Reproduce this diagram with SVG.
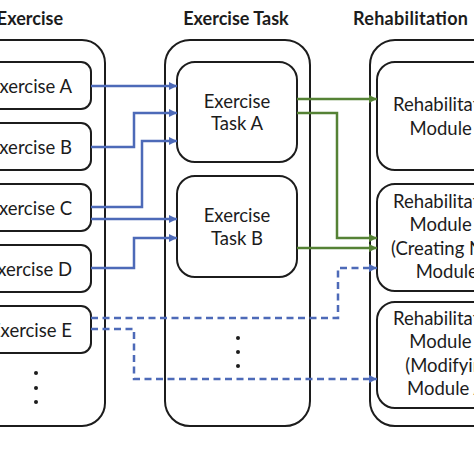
<svg xmlns="http://www.w3.org/2000/svg" width="474" height="474" viewBox="0 0 474 474">
  <defs>
    <marker id="arrBlue" viewBox="0 0 10 10" refX="10" refY="5" markerWidth="8" markerHeight="8" markerUnits="userSpaceOnUse" orient="auto">
      <path d="M0,0 L10,5 L0,10 z" fill="#4d6ab8"/>
    </marker>
    <marker id="arrGreen" viewBox="0 0 10 10" refX="10" refY="5" markerWidth="8" markerHeight="8" markerUnits="userSpaceOnUse" orient="auto">
      <path d="M0,0 L10,5 L0,10 z" fill="#558235"/>
    </marker>
  </defs>
  <style>
    .frame { fill: #ffffff; stroke: #1c1c1c; stroke-width: 2; }
    .box { fill: #ffffff; stroke: #1c1c1c; stroke-width: 2; }
    .head { font-family: Lato, "Liberation Sans", sans-serif; font-weight: bold; font-size: 18px; fill: #1c1c1c; }
    .lbl { font-family: Lato, "Liberation Sans", sans-serif; font-size: 18.5px; fill: #1c1c1c; }
    .blue { fill: none; stroke: #4d6ab8; stroke-width: 2.5; marker-end: url(#arrBlue); }
    .dash { stroke-dasharray: 7 4.5; }
    .green { fill: none; stroke: #558235; stroke-width: 2.5; marker-end: url(#arrGreen); }
    .dot { fill: #1c1c1c; }
  </style>

  <rect width="474" height="474" fill="#ffffff"/>

  <!-- column headers -->
  <text class="head" x="63" y="25" text-anchor="end">Exercise</text>
  <text class="head" x="236" y="25" text-anchor="middle">Exercise Task</text>
  <text class="head" x="353" y="25" textLength="115">Rehabilitation</text>

  <!-- column frames -->
  <rect class="frame" x="-60" y="40" width="165" height="386" rx="23"/>
  <rect class="frame" x="165" y="40" width="145" height="386" rx="25"/>
  <rect class="frame" x="370" y="40" width="160" height="386" rx="25"/>

  <!-- exercises -->
  <g id="exercise-a">
    <rect class="box" x="-40" y="62" width="131" height="47" rx="10"/>
    <text class="lbl" x="72" y="93" text-anchor="end">Exercise A</text>
  </g>
  <g id="exercise-b">
    <rect class="box" x="-40" y="123" width="131" height="47" rx="10"/>
    <text class="lbl" x="72" y="154" text-anchor="end">Exercise B</text>
  </g>
  <g id="exercise-c">
    <rect class="box" x="-40" y="184" width="131" height="47" rx="10"/>
    <text class="lbl" x="72" y="215" text-anchor="end">Exercise C</text>
  </g>
  <g id="exercise-d">
    <rect class="box" x="-40" y="245" width="131" height="47" rx="10"/>
    <text class="lbl" x="72" y="276" text-anchor="end">Exercise D</text>
  </g>
  <g id="exercise-e">
    <rect class="box" x="-40" y="306" width="131" height="47" rx="10"/>
    <text class="lbl" x="72" y="337" text-anchor="end">Exercise E</text>
  </g>
  <g id="exercise-more">
    <circle class="dot" cx="36" cy="373" r="2"/>
    <circle class="dot" cx="36" cy="388" r="2"/>
    <circle class="dot" cx="36" cy="402" r="2"/>
  </g>

  <!-- exercise tasks -->
  <g id="task-a">
    <rect class="box" x="177" y="62" width="120" height="100" rx="18"/>
    <text class="lbl" x="237" y="108" text-anchor="middle">Exercise</text>
    <text class="lbl" x="237" y="130" text-anchor="middle">Task A</text>
  </g>
  <g id="task-b">
    <rect class="box" x="177" y="176" width="120" height="101" rx="18"/>
    <text class="lbl" x="237" y="222" text-anchor="middle">Exercise</text>
    <text class="lbl" x="237" y="245" text-anchor="middle">Task B</text>
  </g>
  <g id="task-more">
    <circle class="dot" cx="238" cy="338" r="2"/>
    <circle class="dot" cx="238" cy="352" r="2"/>
    <circle class="dot" cx="238" cy="366" r="2"/>
  </g>

  <!-- rehabilitation modules -->
  <g id="module-a">
    <rect class="box" x="377" y="62" width="150" height="108" rx="18"/>
    <text class="lbl" x="449" y="111" text-anchor="middle">Rehabilitation</text>
    <text class="lbl" x="449" y="134.5" text-anchor="middle">Module A</text>
  </g>
  <g id="module-b">
    <rect class="box" x="377" y="184" width="150" height="107" rx="18"/>
    <text class="lbl" x="449" y="207.5" text-anchor="middle">Rehabilitation</text>
    <text class="lbl" x="449" y="231" text-anchor="middle">Module B</text>
    <text class="lbl" x="449" y="254.5" text-anchor="middle">(Creating New</text>
    <text class="lbl" x="449" y="278" text-anchor="middle">Module)</text>
  </g>
  <g id="module-c">
    <rect class="box" x="377" y="302" width="150" height="106" rx="18"/>
    <text class="lbl" x="449" y="324.5" text-anchor="middle">Rehabilitation</text>
    <text class="lbl" x="449" y="348" text-anchor="middle">Module C</text>
    <text class="lbl" x="449" y="371.5" text-anchor="middle">(Modifying</text>
    <text class="lbl" x="449" y="395" text-anchor="middle">Module A)</text>
  </g>

  <!-- connectors -->
  <g id="connectors">
    <path class="blue" d="M91,86 H177"/>
    <path class="blue" d="M91,147 H134 V113 H177"/>
    <path class="blue" d="M91,207 H142 V141 H177"/>
    <path class="blue" d="M91,219 H177"/>
    <path class="blue" d="M91,268 H134 V238 H177"/>
    <path class="blue dash" d="M91,318 H338 V268 H377"/>
    <path class="blue dash" d="M91,329 H134 V379 H377"/>
    <path class="green" d="M297,99 H377"/>
    <path class="green" d="M297,113 H337 V238 H377"/>
    <path class="green" d="M297,248 H377"/>
  </g>
</svg>
